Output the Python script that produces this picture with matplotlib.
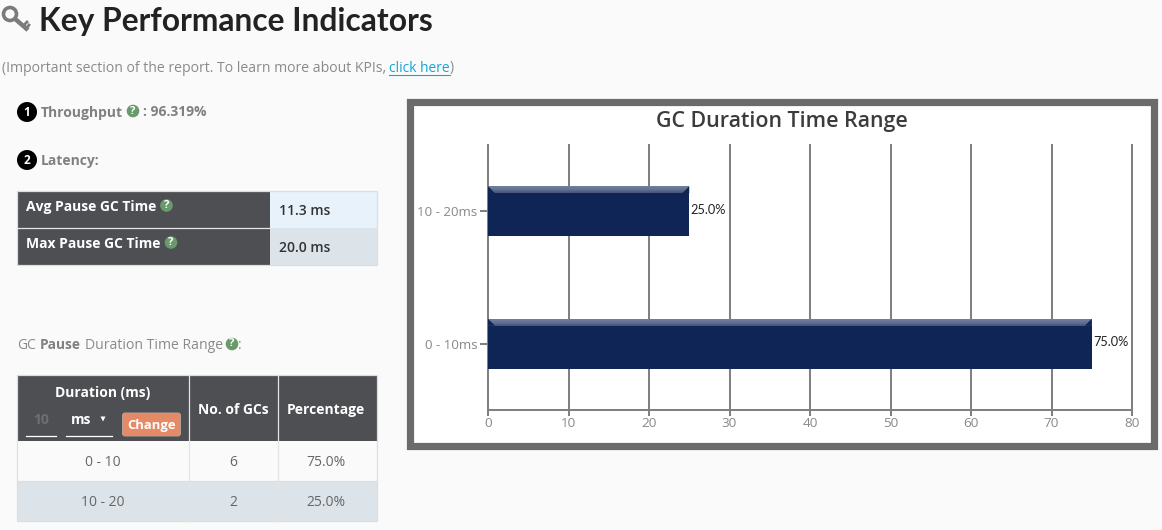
import matplotlib
matplotlib.use("Agg")
import matplotlib.pyplot as plt
from matplotlib.patches import Rectangle, Circle, FancyBboxPatch, Polygon

W, H = 1162, 530
plt.rcParams["font.family"] = ["Open Sans", "DejaVu Sans"]

# chart data
categories = ["0 - 10ms", "10 - 20ms"]
percentages = [75.0, 25.0]
x_ticks = [0, 10, 20, 30, 40, 50, 60, 70, 80]

# table data
kpi_labels = ["Avg Pause GC Time", "Max Pause GC Time"]
kpi_values = ["11.3 ms", "20.0 ms"]
range_labels = ["0 - 10", "10 - 20"]
gc_counts = ["6", "2"]
range_percent = ["75.0%", "25.0%"]

BG = "#fafafa"
DARK = "#4d4f53"
GREY = "#808080"
LINE = "#dcdfe1"
GREEN = "#6a9a6c"
NAVY = "#0f2555"

fig = plt.figure(figsize=(W / 100, H / 100), dpi=100, facecolor=BG)

# page layer, in pixels
page = fig.add_axes([0, 0, 1, 1])
page.set_xlim(0, W)
page.set_ylim(H, 0)
page.axis("off")


def rect(x0, y0, x1, y1, color, ec="none", lw=0):
    page.add_patch(Rectangle((x0, y0), x1 - x0, y1 - y0, fc=color, ec=ec, lw=lw))


def txt(x, y, s, size=10, color="#888888", weight="normal", ha="left", va="center", **kw):
    return page.text(x, y + 2, s, fontsize=size, color=color, fontweight=weight,
                     ha=ha, va=va, **kw)


def help_icon(x, y):
    page.add_patch(Circle((x, y), 6.3, fc=GREEN, ec="none"))
    txt(x, y - 2, "?", size=8, color="white", weight="bold", ha="center")


def badge(x, y, s):
    page.add_patch(Circle((x, y), 10, fc="black", ec="none"))
    txt(x, y - 2, s, size=8.5, color="white", weight="bold", ha="center")


# header
page.add_patch(Circle((10, 14), 6.5, fc="none", ec="#7b7b7b", lw=2.6))
page.plot([14, 28], [18, 30], color="#7b7b7b", lw=3.2, solid_capstyle="butt")
page.plot([23, 27], [26, 22], color="#7b7b7b", lw=2)
page.plot([26, 29], [29, 25], color="#7b7b7b", lw=2)
txt(39, 19, "Key Performance Indicators", size=22.9, color="#222222",
    weight="bold", family=["Lato", "DejaVu Sans"])

txt(2, 66, "(Important section of the report. To learn more about KPIs,", size=10.1, color="#8a8a8a")
txt(389, 66, "click here", size=9.9, color="#12a5d8")
page.plot([389, 450], [74.5, 74.5], color="#12a5d8", lw=0.8)
txt(450, 66, ")", size=9.9, color="#8a8a8a")

# throughput and latency
badge(27, 112, "1")
txt(41, 110.5, "Throughput", size=10, color=GREY, weight="bold")
help_icon(133, 111)
txt(143, 110.5, ": 96.319%", size=10, color=GREY, weight="bold")
badge(27, 160, "2")
txt(41, 158.5, "Latency:", size=10, color=GREY, weight="bold")

# KPI table
rect(17, 191, 269.5, 264.5, DARK)
rect(269.5, 191, 376.5, 228, "#e8f2fb")
rect(269.5, 228, 376.5, 264.5, "#dce4ea")
page.plot([17, 269.5], [228, 228], color="#e4e6e8", lw=0.9)
page.add_patch(Rectangle((17, 191), 359.5, 73.5, fc="none", ec=LINE, lw=0.9))
for i, (label, value) in enumerate(zip(kpi_labels, kpi_values)):
    y = 204.5 + i * 37
    txt(26, y, label, size=10, color="white", weight="bold")
    help_icon(166.5 if i == 0 else 171, y + 1)
    txt(279, y + 4.5, value, size=10, color="#333333", weight="semibold")

# pause range heading, on a shared baseline
txt(17, 347, "GC", size=9.9, color="#8a8a8a", va="baseline")
txt(40, 347, "Pause", size=9.9, color=GREY, weight="bold", va="baseline")
txt(85, 347, "Duration Time Range", size=10.1, color="#8a8a8a", va="baseline")
help_icon(232, 344)
txt(238, 347, ":", size=9.9, color="#8a8a8a", va="baseline")

# pause range table
col_x = [17, 188.5, 277.5, 376.5]
rect(17, 375, 376.5, 440.5, DARK)
rect(17, 440.5, 376.5, 480.5, BG)
rect(17, 480.5, 376.5, 521, "#dce4ea")
for x in col_x[1:3]:
    page.plot([x, x], [375, 521], color="#e2e4e6", lw=0.9)
page.plot([17, 376.5], [480.5, 480.5], color=LINE, lw=0.9)
page.add_patch(Rectangle((17, 375), 359.5, 146, fc="none", ec=LINE, lw=0.9))

txt(103, 391, "Duration (ms)", size=10, color="white", weight="bold", ha="center")
txt(233, 408, "No. of GCs", size=10, color="white", weight="bold", ha="center")
txt(326, 408, "Percentage", size=10, color="white", weight="bold", ha="center")
txt(41, 418, "10", size=10, color="#6d6f72", weight="bold", ha="center")
txt(81, 418, "ms", size=10, color="white", weight="bold", ha="center")
page.add_patch(Polygon([[100.5, 416.5], [105.5, 416.5], [103, 421.5]], fc="white", ec="none"))
page.plot([26, 56], [436, 436], color="white", lw=0.9)
page.plot([66, 112], [436, 436], color="white", lw=0.9)
page.add_patch(FancyBboxPatch((122.5, 413), 58, 23, boxstyle="round,pad=0,rounding_size=2.5",
                              fc="#e58a67", ec="#b9a093", lw=0.7))
txt(151.5, 423, "Change", size=9.4, color="white", weight="bold", ha="center")

for i in range(len(range_labels)):
    y = 461 + i * 40
    txt(103, y, range_labels[i], size=10, color="#666666", ha="center")
    txt(233, y, gc_counts[i], size=10, color="#666666", ha="center")
    txt(326, y, range_percent[i], size=10, color="#666666", ha="center")

# chart frame
rect(409.6, 101.6, 1154.4, 446.4, "white", ec="#6b6b6b", lw=5.2)
txt(782, 120, "GC Duration Time Range", size=15.4, color="#3c3c3c", weight="semibold", ha="center")

# chart
left, right, top, bottom = 488, 1132, 145, 410
ax = fig.add_axes([left / W, 1 - bottom / H, (right - left) / W, (bottom - top) / H])
ax.patch.set_alpha(0)
bar_h = 50 / ((bottom - top) / 2)
ypos = list(range(len(categories)))
ax.barh(ypos, percentages, height=bar_h, color=NAVY, zorder=3)
ax.set_xlim(x_ticks[0], x_ticks[-1])
ax.set_ylim(-0.5, 1.5)
ax.set_xticks(x_ticks)
ax.set_yticks(ypos)
ax.set_yticklabels(categories)
ax.grid(axis="x", color=GREY, lw=1.45, zorder=1, clip_on=False)
ax.set_axisbelow(True)
for side in ["top", "right"]:
    ax.spines[side].set_visible(False)
for side in ["left", "bottom"]:
    ax.spines[side].set_color(GREY)
    ax.spines[side].set_linewidth(1.45)
    ax.spines[side].set_zorder(2)
ax.tick_params(axis="x", length=4, width=1.45, color=GREY, labelcolor="#888888", labelsize=9.7, pad=0.8)
ax.tick_params(axis="y", length=6, width=1.45, color=GREY, labelcolor="#888888", labelsize=9.6, pad=1.5)

# bevel along the top of each bar
px_y = (ax.get_ylim()[1] - ax.get_ylim()[0]) / (bottom - top)
px_x = (x_ticks[-1] - x_ticks[0]) / (right - left)
bevel = 7
shades = ["#6f7d9c", "#6c7a9a", "#677596", "#616f90", "#5a6889", "#525f82", "#4a577a"]
for y, val in zip(ypos, percentages):
    upper = y + bar_h / 2
    for k in range(bevel):
        ax.barh(upper - (k + 0.5) * px_y, val, height=px_y, color=shades[k], zorder=4, lw=0)
    for tri in ([[0, upper], [bevel * px_x, upper - bevel * px_y], [0, upper - bevel * px_y]],
                [[val, upper], [val - bevel * px_x, upper - bevel * px_y], [val, upper - bevel * px_y]]):
        ax.add_patch(Polygon(tri, fc=NAVY, ec="none", zorder=5))
    ax.annotate(f"{val:.1f}%", (val, y), xytext=(1, 1), textcoords="offset points",
                ha="left", va="center", fontsize=9.2, color="#222222",
                family=["Lato", "DejaVu Sans"], zorder=6)

fig.savefig("out.png", dpi=100, facecolor=BG)
